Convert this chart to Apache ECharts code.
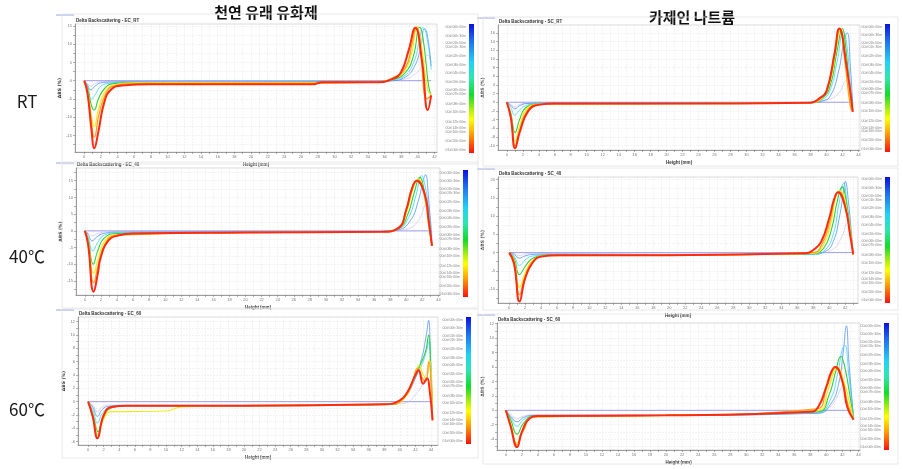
<!DOCTYPE html>
<html>
<head>
<meta charset="utf-8">
<script src="https://cdn.jsdelivr.net/npm/echarts@6/dist/echarts.min.js"></script>
<style>
  html, body { margin: 0; padding: 0; background: #fff; }
  #main { width: 903px; height: 469px; }
</style>
</head>
<body>
<div id="main"></div>
<script>
// 列/行标题
const colTitles = ['천연 유래 유화제', '카제인 나트륨']
const rowTitles = ['RT', '40℃', '60℃']
const panelNames = ['EC_RT', 'SC_RT', 'EC_40', 'SC_40', 'EC_60', 'SC_60']

// 扫描时间 (colour bar labels, blue = first scan, red = last scan)
const scanTimes = ['00d:00h:00m', '00d:00h:30m', '00d:01h:00m', '00d:01h:30m', '00d:02h:00m',
  '00d:03h:00m', '00d:04h:00m', '00d:05h:00m', '00d:06h:00m', '00d:07h:00m', '00d:08h:00m',
  '00d:10h:00m', '00d:12h:00m', '00d:14h:00m', '00d:16h:00m', '00d:20h:00m', '01d:00h:00m']

// 刻度
const heightLabels42 = [0, 2, 4, 6, 8, 10, 12, 14, 16, 18, 20, 22, 24, 26, 28, 30, 32, 34, 36, 38, 40, 42]
const heightLabels44 = [0, 2, 4, 6, 8, 10, 12, 14, 16, 18, 20, 22, 24, 26, 28, 30, 32, 34, 36, 38, 40, 42, 44]
const heightTicks = [0, 1, 2, 3, 4, 5, 6, 7, 8, 9, 10, 11, 12, 13, 14, 15, 16, 17, 18, 19, 20, 21, 22,
  23, 24, 25, 26, 27, 28, 29, 30, 31, 32, 33, 34, 35, 36, 37, 38, 39, 40, 41, 42, 43, 44]
const bsLabelsA = [-15, -10, -5, 0, 5, 10, 15]
const bsTicksA = [-17.5, -15, -12.5, -10, -7.5, -5, -2.5, 0, 2.5, 5, 7.5, 10, 12.5, 15]
const bsLabelsB = [-10, -8, -6, -4, -2, 0, 2, 4, 6, 8, 10, 12, 14, 16]
const bsLabelsC = [-15, -10, -5, 0, 5, 10, 15]
const bsTicksC = [-17.5, -15, -12.5, -10, -7.5, -5, -2.5, 0, 2.5, 5, 7.5, 10, 12.5, 15, 17.5]
const bsLabelsD = [-10, -5, 0, 5, 10, 15, 20]
const bsTicksD = [-12.5, -10, -7.5, -5, -2.5, 0, 2.5, 5, 7.5, 10, 12.5, 15, 17.5, 20]
const bsLabelsE = [-6, -4, -2, 0, 2, 4, 6, 8, 10, 12]
const bsTicksE = [-6, -5, -4, -3, -2, -1, 0, 1, 2, 3, 4, 5, 6, 7, 8, 9, 10, 11, 12]
const bsLabelsF = [-4, -2, 0, 2, 4, 6, 8, 10, 12]
const bsTicksF = [-5, -4, -3, -2, -1, 0, 1, 2, 3, 4, 5, 6, 7, 8, 9, 10, 11, 12]

// 第一条扫描 (reference line at 0) 结束位置
const baselineEnd = [41.6, 43.3, 43.2, 43, 44.2, 43.4]

// 曲线 [height mm, delta BS %], order: early (lavender) -> late (red)
const EC_RT = [
  [[0, 0], [0.3, -0.5], [0.8, -1.5], [1.3, -0.8], [2, -0.3], [4, -0.2], [20, -0.1], [36, 0], [38, 0.3], [39.5, 1.5], [40.5, 4], [41.2, 7], [41.6, 5]],
  [[0, 0], [0.3, -0.8], [0.8, -2.5], [1.3, -1.5], [2, -0.6], [3, -0.4], [6, -0.3], [20, -0.3], [35, -0.2], [37, 0], [38.5, 1], [39.5, 3.5], [40.3, 8.5], [40.8, 14.2], [41.1, 13], [41.6, 4]],
  [[0, 0], [0.4, -1.5], [0.9, -5], [1.4, -3.5], [2, -1.5], [3, -0.7], [5, -0.4], [20, -0.4], [35, -0.3], [37, 0.2], [38.5, 1.5], [39.5, 5], [40.2, 11], [40.6, 14.5], [41, 13], [41.6, 3]],
  [[0, 0], [0.4, -2], [0.9, -7], [1.2, -8], [1.7, -5], [2.5, -2], [3.5, -0.8], [6, -0.5], [20, -0.5], [35, -0.3], [37, 0.3], [38.5, 2.2], [39.5, 7], [40.2, 14.6], [40.6, 12], [41.3, -1.5], [41.6, -4]],
  [[0, 0], [0.4, -2.5], [0.9, -10], [1.2, -12.6], [1.7, -8], [2.5, -3], [3.5, -1.2], [6, -0.6], [20, -0.5], [28, -0.5], [35, -0.3], [37, 0.5], [38.5, 3], [39.3, 8], [39.9, 14.8], [40.4, 10], [41.2, -2.5], [41.6, -4]],
  [[0, 0], [0.4, -3], [0.9, -12], [1.2, -15.5], [1.8, -9], [2.6, -3.5], [3.5, -1.5], [6, -0.8], [20, -0.7], [28, -0.7], [35, -0.4], [37, 0.8], [38.5, 3.5], [39.3, 10], [39.8, 14.6], [40.3, 8], [41.1, -5], [41.6, -4]],
  [[0, 0], [0.4, -3.5], [0.9, -14], [1.2, -18.5], [1.7, -14], [2.4, -6], [3.2, -2.5], [4.5, -1.3], [8, -1], [20, -1], [27.5, -1], [28.5, -0.4], [35, -0.4], [37, 0.5], [38, 2.4], [38.9, 8.3], [39.7, 14.5], [40.5, 5.5], [41.2, -8], [41.6, -4]]
]
const SC_RT = [
  [[0, 0], [0.5, -0.5], [1, -1], [1.6, -0.5], [3, -0.2], [20, -0.1], [38, 0], [40, 0.5], [41.5, 2], [42.5, 5], [43, 3], [43.3, -0.5]],
  [[0, 0], [0.5, -0.7], [1, -1.5], [1.6, -0.8], [2.5, -0.3], [5, -0.2], [20, -0.2], [38, -0.1], [39.5, 0.3], [40.5, 1.5], [41.5, 7], [42.2, 14], [42.6, 16], [43, 8], [43.3, -1]],
  [[0, 0], [0.5, -1.2], [1, -3], [1.5, -2], [2.3, -0.8], [4, -0.3], [20, -0.2], [38, -0.1], [39.5, 0.6], [40.5, 3], [41.4, 10], [42.1, 16.3], [42.5, 14], [43, 4], [43.3, -1.5]],
  [[0, 0], [0.5, -2.5], [1.05, -7], [1.6, -4], [2.4, -1.2], [4, -0.4], [20, -0.3], [38, -0.1], [39.5, 0.9], [40.5, 4], [41.3, 11.5], [42, 17], [42.4, 13], [43, 1], [43.3, -2]],
  [[0, 0], [0.5, -3], [1.05, -9], [1.6, -5.5], [2.5, -1.5], [4, -0.5], [20, -0.3], [38, -0.1], [39.5, 1.1], [40.5, 5], [41.2, 12], [41.8, 17], [42.3, 12], [43, -0.5], [43.3, -2.2]],
  [[0, 0], [0.5, -3.3], [1.05, -10], [1.6, -6.5], [2.6, -1.8], [4, -0.5], [20, -0.3], [38, -0.1], [39.5, 1.3], [40.4, 5], [41, 11.5], [41.7, 17], [42.2, 11], [43, -1], [43.3, -2.2]],
  [[0, 0], [0.5, -3.5], [1.05, -10.6], [1.6, -7], [2.7, -2], [4, -0.6], [6, -0.3], [20, -0.3], [38, -0.1], [39.2, 1], [40, 2.5], [41, 11], [41.6, 17], [42.5, 8.6], [43.3, -2.2]]
]
const EC_40 = [
  [[0, 0], [0.5, -0.8], [1, -1.5], [1.6, -0.8], [3, -0.3], [20, -0.2], [38, 0], [40, 0.5], [41.5, 3], [42.5, 8], [43, 4], [43.2, -3]],
  [[0, 0], [0.4, -1], [0.9, -3], [1.5, -1.8], [2.3, -0.8], [4, -0.4], [20, -0.3], [37, -0.2], [39, 0.3], [40.5, 3], [41.5, 9], [42.1, 15], [42.4, 16.8], [42.7, 12], [43.2, -4.5]],
  [[0, 0], [0.4, -1.8], [1, -6], [1.6, -3.5], [2.4, -1.3], [4, -0.6], [20, -0.5], [37, -0.2], [39, 0.5], [40.3, 4], [41.2, 10.5], [41.9, 16.5], [42.3, 14], [42.8, 6], [43.2, -4.5]],
  [[0, 0], [0.4, -2.5], [1.05, -10], [1.6, -6], [2.4, -2.2], [4, -0.8], [20, -0.5], [37, -0.2], [39, 0.6], [40.2, 5], [41, 11.5], [41.7, 16], [42.2, 12.5], [42.8, 3], [43.2, -4.5]],
  [[0, 0], [0.4, -3], [1.1, -12.7], [1.7, -8], [2.5, -3], [4, -1.1], [20, -0.5], [37, -0.2], [39, 0.7], [40.1, 6], [40.9, 13], [41.5, 15.5], [42.2, 11.5], [42.8, 2], [43.2, -4.5]],
  [[0, 0], [0.4, -3.5], [1.1, -15.5], [1.7, -10], [2.6, -3.5], [4, -1.3], [20, -0.5], [37, -0.3], [39, 0.8], [40, 6.5], [40.8, 13.5], [41.4, 15.2], [42.2, 11], [42.8, 1.5], [43.2, -4.5]],
  [[0, 0], [0.4, -4], [1.1, -18.2], [1.6, -13], [2, -7.7], [3, -2.7], [4, -1.5], [6, -0.8], [20, -0.5], [37, -0.3], [39, 0.8], [40, 6.3], [40.7, 12.5], [41.3, 15], [42.3, 11], [42.8, 3], [43.2, -4.5]]
]
const SC_40 = [
  [[0, 0], [0.5, -0.2], [1.3, -0.8], [2, -0.4], [4, -0.2], [20, -0.1], [39, 0], [40.5, 1], [41.5, 4], [42.3, 8], [42.7, 5], [43, -0.5]],
  [[0, 0], [0.6, -0.5], [1.3, -1.5], [2, -0.9], [3, -0.5], [5, -0.4], [20, -0.5], [38, -0.4], [39.5, 0.3], [40.5, 3], [41.3, 10], [41.8, 17], [42, 19.5], [42.4, 14], [43, -0.5]],
  [[0, 0], [0.6, -1], [1.3, -3.5], [2, -2], [3, -0.9], [5, -0.6], [20, -0.6], [38, -0.5], [39.5, 0.8], [40.5, 5], [41.2, 13], [41.8, 19], [42.2, 14], [43, -0.5]],
  [[0, 0], [0.6, -1.5], [1.3, -6], [2, -3.8], [3, -1.5], [5, -0.7], [20, -0.6], [38, -0.3], [39.3, 1.2], [40.3, 6.5], [41, 14], [41.6, 18], [42.2, 13], [43, -0.5]],
  [[0, 0], [0.6, -2], [1.3, -9.5], [2, -5.5], [3, -2], [5, -0.8], [20, -0.7], [38, -0.2], [39.2, 1.8], [40.2, 8], [40.8, 15], [41.3, 17], [42.1, 13], [43, -0.5]],
  [[0, 0], [0.6, -2.5], [1.3, -11.5], [2, -6.5], [3, -2.3], [5, -0.8], [20, -0.7], [38, 0], [39.1, 2.3], [40.1, 8.6], [40.7, 15], [41.2, 16.7], [42, 12.8], [43, -0.5]],
  [[0, 0], [0.6, -3], [1.3, -13.4], [2, -7], [3, -2.5], [4, -1.1], [6, -0.7], [20, -0.7], [37, -0.2], [38, 0.7], [39, 3], [40, 9.4], [40.6, 14.5], [41.1, 16.5], [42, 12.5], [42.6, 5], [43, -0.5]]
]
const EC_60 = [
  [[0, 0], [0.6, -0.5], [1.2, -1.5], [1.8, -0.8], [3, -0.5], [20, -0.5], [40, -0.3], [42, 1], [43.3, 4], [43.8, 6], [44.2, -1]],
  [[0, 0], [0.6, -0.8], [1.2, -2.2], [1.8, -1.2], [2.6, -0.7], [4, -0.6], [20, -0.6], [39, -0.4], [40.5, 0.5], [41.8, 3], [42.8, 6.5], [43.4, 10], [43.7, 12.2], [43.9, 8], [44.2, -2]],
  [[0, 0], [0.6, -1.2], [1.2, -3.2], [1.8, -1.8], [2.8, -0.8], [4, -0.6], [20, -0.6], [39, -0.4], [40.5, 0.5], [41.8, 3.2], [42.8, 5.5], [43.4, 7.5], [43.7, 9], [44, 3], [44.2, -2]],
  [[0, 0], [0.6, -1.8], [1.3, -4.5], [2, -2.2], [3, -0.9], [4.5, -0.6], [20, -0.6], [39, -0.4], [40.5, 0.5], [41.8, 3.5], [42.6, 5.5], [43.3, 7.5], [43.7, 10], [44, 4], [44.2, -2]],
  [[0, 0], [0.6, -2], [1.3, -5], [2, -2.6], [3, -1.5], [5, -1.5], [10, -1.4], [12, -0.8], [20, -0.6], [39, -0.4], [40.5, 0.4], [41.7, 3], [42.5, 5.5], [43, 4], [43.4, 3.5], [43.8, 6.3], [44.2, -2.5]],
  [[0, 0], [0.6, -2.2], [1.2, -5.4], [1.9, -2.5], [3, -0.9], [5, -0.6], [20, -0.6], [39, -0.4], [40.5, 0.5], [41.5, 2.5], [42.3, 5], [42.9, 3.5], [43.3, 3], [43.7, 6], [44.2, -2.8]],
  [[0, 0], [0.6, -2.3], [1.2, -5.5], [2, -2], [3, -0.8], [5, -0.6], [20, -0.6], [38, -0.4], [40, 0.2], [41, 1.5], [42, 4], [42.4, 4.7], [43, 2.7], [43.5, 3.5], [43.8, 2], [44.2, -2.8]]
]
const SC_60 = [
  [[0, 0], [0.6, -0.5], [1.4, -1.2], [2.2, -0.8], [4, -0.6], [20, -0.6], [39, -0.4], [40.5, 0.5], [41.8, 3], [42.6, 5.5], [43, 3], [43.4, -1]],
  [[0, 0], [0.6, -0.8], [1.4, -1.6], [2.2, -1], [3.5, -0.7], [20, -0.7], [39, -0.4], [40.5, 0.8], [41.5, 3.5], [42.1, 8], [42.5, 11.7], [42.8, 7], [43.4, -1.3]],
  [[0, 0], [0.6, -1], [1.4, -2.2], [2.2, -1.3], [3.5, -0.8], [20, -0.7], [39, -0.3], [40.5, 1.5], [41.4, 5], [42, 8.5], [42.3, 9], [42.8, 5], [43.4, -1.3]],
  [[0, 0], [0.6, -1.3], [1.4, -3.3], [2.2, -1.8], [3.5, -0.8], [20, -0.7], [39, -0.2], [40.3, 2], [41.2, 5.5], [41.8, 7.5], [42.3, 6], [42.8, 3], [43.4, -1.3]],
  [[0, 0], [0.6, -1.8], [1.4, -4.5], [2.2, -2.5], [3.5, -0.9], [20, -0.7], [39, 0], [40.2, 2.8], [40.9, 5.2], [41.4, 6], [42.1, 4.3], [42.8, 1.5], [43.4, -1.3]],
  [[0, 0], [0.6, -2], [1.4, -4.8], [2.2, -2.8], [3.5, -0.9], [20, -0.7], [38.8, 0.2], [40, 3], [40.8, 5.5], [41.2, 6], [42, 4.2], [42.7, 0.8], [43.4, -1.3]],
  [[0, 0], [0.6, -2.2], [1.4, -5.1], [2, -3], [3, -1.1], [4, -0.8], [20, -0.7], [38, -0.2], [39, 0.5], [40, 3.3], [40.6, 5.3], [41.1, 6], [42, 4], [42.6, 0.5], [43.4, -1.3]]
]
const panelCurves = [EC_RT, SC_RT, EC_40, SC_40, EC_60, SC_60]

// 样式
const curveColors = ['#bcaef2', '#3d7ff2', '#34d4f2', '#2fcf3f', '#f0ec1a', '#ffa01e', '#ff2a12']
const curveWidths = [0.6, 0.8, 0.9, 1.1, 1.2, 1.3, 2]
const barGradient = [
  { offset: 0, color: '#0a10e0' }, { offset: 0.13, color: '#1f6ef2' }, { offset: 0.3, color: '#22d2f5' },
  { offset: 0.42, color: '#2ee6b0' }, { offset: 0.55, color: '#10dc28' }, { offset: 0.66, color: '#a6ee10' },
  { offset: 0.74, color: '#ffff00' }, { offset: 0.86, color: '#ff9a00' }, { offset: 1, color: '#ff1010' }
]
const barLabelPos = [0.02, 0.09, 0.15, 0.18, 0.25, 0.32, 0.38, 0.45, 0.51, 0.54, 0.62, 0.68, 0.76, 0.81, 0.84, 0.91, 0.98]

const boxes = [
  { left: 75, top: 24, width: 362, height: 128, xMin: -1.1, xMax: 42.3, yMin: -19.5, yMax: 15.5, xl: heightLabels42, yl: bsLabelsA, yt: bsTicksA, bar: [469, 24, 5, 129], frame: [62, 14, 416, 150] },
  { left: 498, top: 25, width: 362, height: 125, xMin: -1.1, xMax: 44.2, yMin: -11, yMax: 17.8, xl: heightLabels44, yl: bsLabelsB, yt: bsLabelsB, bar: [885, 24, 5, 128], frame: [483, 17, 415, 149] },
  { left: 76, top: 168, width: 364, height: 127, xMin: -1.1, xMax: 44.2, yMin: -19.2, yMax: 18.8, xl: heightLabels44, yl: bsLabelsC, yt: bsTicksC, bar: [463, 170, 5, 127], frame: [62, 162, 416, 146] },
  { left: 498, top: 177, width: 360, height: 126, xMin: -1.4, xMax: 43.6, yMin: -13.8, yMax: 20.7, xl: heightLabels42, yl: bsLabelsD, yt: bsTicksD, bar: [885, 177, 5, 126], frame: [483, 168, 415, 142] },
  { left: 78, top: 317, width: 360, height: 128, xMin: -1.3, xMax: 44.9, yMin: -6.5, yMax: 12.7, xl: heightLabels44, yl: bsLabelsE, yt: bsTicksE, bar: [466, 317, 5, 127], frame: [62, 309, 416, 149] },
  { left: 497, top: 323, width: 363, height: 127, xMin: -1.1, xMax: 44.2, yMin: -5.5, yMax: 12.1, xl: heightLabels44, yl: bsLabelsF, yt: bsTicksF, bar: [884, 323, 5, 127], frame: [483, 314, 415, 150] }
]

const chart = echarts.init(document.getElementById('main'))

let grids = [], xAxes = [], yAxes = [], series = [], graphics = []
const tiny = { fontSize: 4, color: '#777', fontFamily: 'Liberation Sans' }
const gridLine = { show: true, lineStyle: { color: '#e6e6e6', type: 'dashed', width: 0.5 } }

boxes.forEach((b, i) => {
  grids.push({ left: b.left, top: b.top, width: b.width, height: b.height, show: true, borderColor: '#c4c4c4', borderWidth: 0.6 })
  xAxes.push({
    gridIndex: i, type: 'value', min: b.xMin, max: b.xMax,
    name: 'Height (mm)', nameLocation: 'middle', nameGap: 10,
    nameTextStyle: { fontSize: 4.5, fontWeight: 'bold', color: '#333', fontFamily: 'Liberation Sans' },
    axisLine: { show: true, onZero: false, lineStyle: { color: '#666', width: 0.6 } },
    axisTick: { show: true, length: 2, customValues: heightTicks, lineStyle: { color: '#666', width: 0.5 } },
    axisLabel: Object.assign({ customValues: b.xl, margin: 3 }, tiny),
    splitLine: gridLine
  })
  yAxes.push({
    gridIndex: i, type: 'value', min: b.yMin, max: b.yMax,
    name: 'ΔBS (%)', nameLocation: 'middle', nameGap: 11, nameRotate: 90,
    nameTextStyle: { fontSize: 4.5, fontWeight: 'bold', color: '#333', fontFamily: 'DejaVu Sans' },
    axisLine: { show: true, onZero: false, lineStyle: { color: '#666', width: 0.6 } },
    axisTick: { show: true, length: 2, customValues: b.yt, lineStyle: { color: '#666', width: 0.5 } },
    axisLabel: Object.assign({ customValues: b.yl, margin: 3 }, tiny),
    splitLine: gridLine
  })
  // 第一条扫描 = 0 参考线
  series.push({
    type: 'line', xAxisIndex: i, yAxisIndex: i, showSymbol: false, silent: true,
    data: [[0, 0], [baselineEnd[i], 0]],
    lineStyle: { color: '#8a84e8', width: 0.8 }
  })
  panelCurves[i].forEach((c, k) => {
    series.push({
      type: 'line', xAxisIndex: i, yAxisIndex: i, showSymbol: false, silent: true,
      smooth: 0.5,
      data: c,
      lineStyle: { color: curveColors[k], width: curveWidths[k], opacity: k < 3 ? 0.85 : 1 }
    })
  })

  // 外框 + 标题
  const f = b.frame
  graphics.push({ type: 'rect', shape: { x: f[0], y: f[1], width: f[2], height: f[3] }, style: { fill: 'none', stroke: '#e2e2e2', lineWidth: 0.8 }, z: 1 })
  graphics.push({ type: 'line', shape: { x1: f[0] - 6, y1: f[1] + 1, x2: f[0] + 12, y2: f[1] + 1 }, style: { stroke: '#7d8fd8', lineWidth: 0.8 } })
  graphics.push({
    type: 'text', x: b.left + 1, y: b.top - 1,
    style: { text: 'Delta Backscattering - ' + panelNames[i], fontSize: 4.5, fontWeight: 'bold', fill: '#333', fontFamily: 'Liberation Sans', verticalAlign: 'bottom' }
  })
  // colour bar
  const r = b.bar
  graphics.push({
    type: 'rect', shape: { x: r[0], y: r[1], width: r[2], height: r[3] },
    style: { fill: new echarts.graphic.LinearGradient(0, 0, 0, 1, barGradient) }
  })
  scanTimes.forEach((t, k) => {
    graphics.push({
      type: 'text', x: r[0] - 3, y: r[1] + barLabelPos[k] * r[3],
      style: { text: t, fontSize: 3.5, fill: '#888', fontFamily: 'Liberation Sans', align: 'right', verticalAlign: 'middle' }
    })
  })
})

// 列标题
graphics.push({ type: 'text', x: 266, y: 12, style: { text: colTitles[0], fontSize: 15, fontWeight: 'bold', fill: '#111', fontFamily: 'Noto Sans CJK KR', align: 'center', verticalAlign: 'middle' } })
graphics.push({ type: 'text', x: 692, y: 17, style: { text: colTitles[1], fontSize: 15, fontWeight: 'bold', fill: '#111', fontFamily: 'Noto Sans CJK KR', align: 'center', verticalAlign: 'middle' } })
// 行标题
const rowY = [102, 257, 410]
rowTitles.forEach((t, k) => {
  graphics.push({ type: 'text', x: 27, y: rowY[k], style: { text: t, fontSize: 17, fill: '#1a1a1a', fontFamily: 'Noto Sans CJK KR', align: 'center', verticalAlign: 'middle' } })
})

chart.setOption({
  animation: false,
  backgroundColor: '#ffffff',
  grid: grids,
  xAxis: xAxes,
  yAxis: yAxes,
  series: series,
  graphic: graphics
})
</script>
</body>
</html>
